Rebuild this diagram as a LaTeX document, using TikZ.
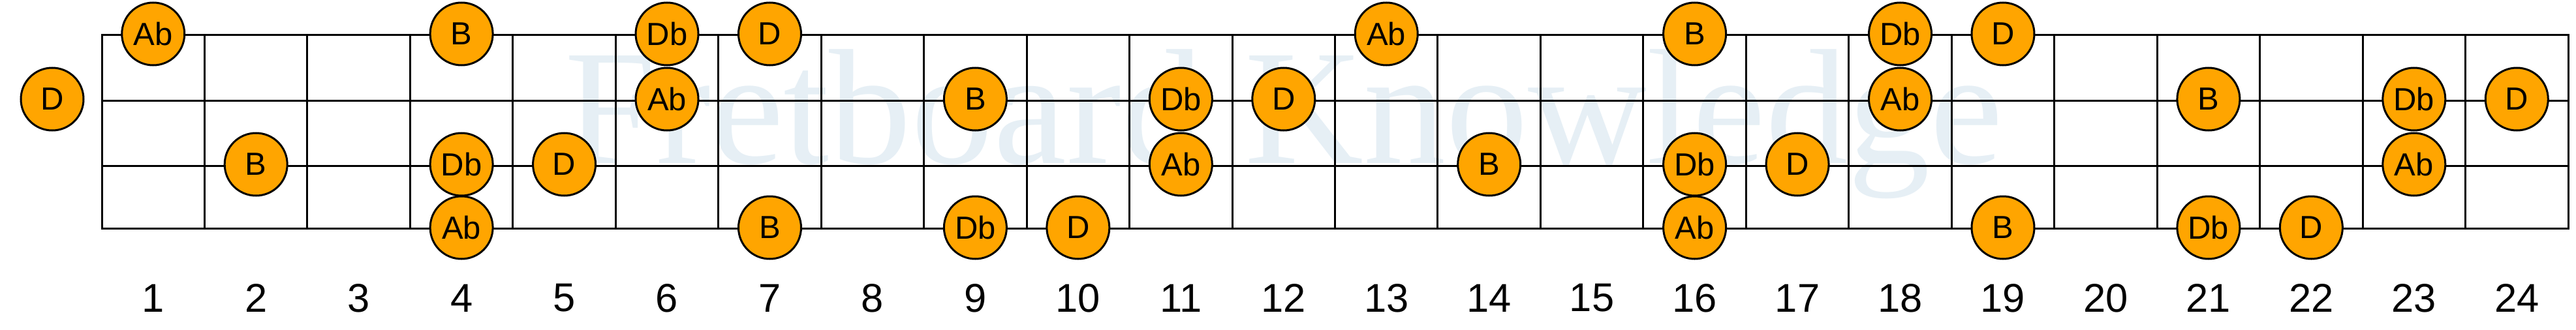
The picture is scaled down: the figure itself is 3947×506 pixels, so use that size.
\documentclass[tikz,border=0pt]{standalone}
\usepackage{fontspec}
\setmainfont{Liberation Sans}
\newfontfamily\wmfont{Liberation Serif}
\definecolor{noteorange}{RGB}{255,165,0}
\definecolor{wmblue}{RGB}{230,239,245}
\begin{document}
\begin{tikzpicture}[x=0.2pt,y=-0.2pt,
  grid/.style={line width=0.6pt, black, line cap=rect},
  note/.style={circle, draw=black, line width=0.6pt, fill=noteorange, minimum size=19.2pt, inner sep=0pt, font=\fontsize{9.8}{10}\selectfont},
  fretnum/.style={font=\fontsize{12.3}{13}\selectfont, inner sep=0pt},
  watermark/.style={anchor=base west, inner sep=0pt, text=wmblue, font=\wmfont\fontsize{50.4}{50}\selectfont}]
\useasboundingbox (0,0) rectangle (3947,506);
\node[watermark] (wm) at (864,250) {Fretboard Knowledge};
\foreach \y in {53,154,254,350} \draw[grid] (156,\y) -- (3935,\y);
\foreach \k in {0,...,24} \draw[grid] ({156+157.458*\k},53) -- ({156+157.458*\k},350);
\foreach \n in {1,...,24} \node[fretnum] (num\n) at ({156+157.458*(\n-0.5)},457) {\n};
\node[note] (n2-0) at (80,152) {D};
\foreach \f/\r/\t in {1/1/Ab,4/1/B,6/1/Db,7/1/D,13/1/Ab,16/1/B,18/1/Db,19/1/D,
  6/2/Ab,9/2/B,11/2/Db,12/2/D,18/2/Ab,21/2/B,23/2/Db,24/2/D,
  2/3/B,4/3/Db,5/3/D,11/3/Ab,14/3/B,16/3/Db,17/3/D,23/3/Ab,
  4/4/Ab,7/4/B,9/4/Db,10/4/D,16/4/Ab,19/4/B,21/4/Db,22/4/D}{
  \ifcase\r\or\def\yy{52}\or\def\yy{152}\or\def\yy{252}\or\def\yy{349}\fi
  \node[note] (n\r-\f) at ({156+157.458*(\f-0.5)},\yy) {\t};
}
\end{tikzpicture}
\end{document}
